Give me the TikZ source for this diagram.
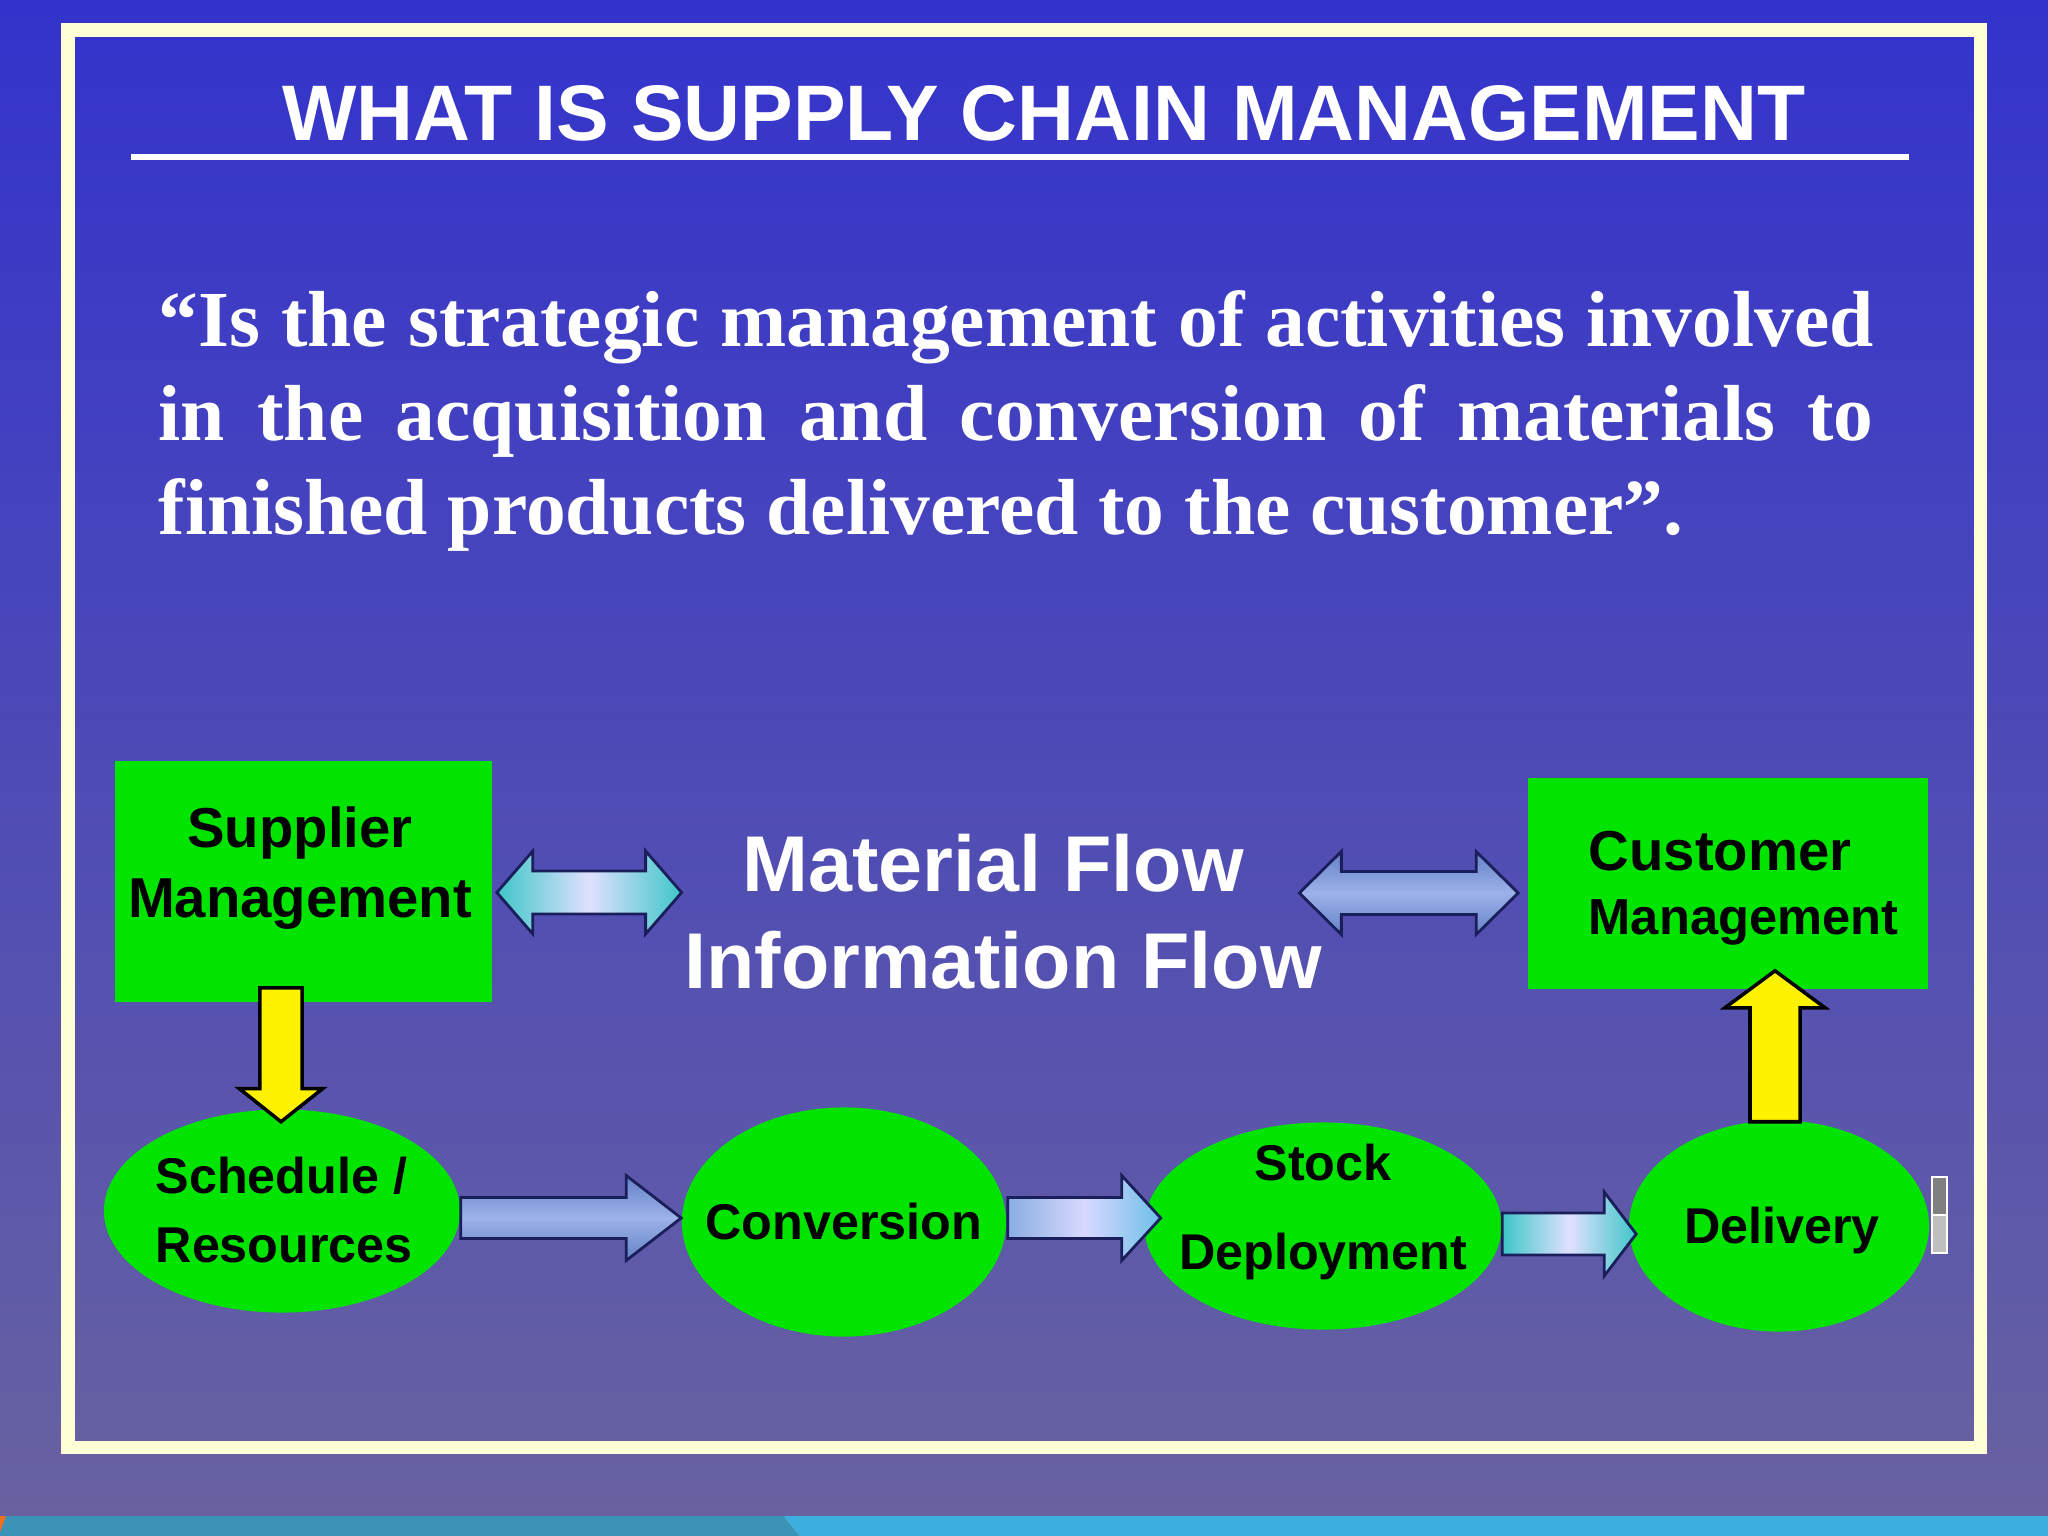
\documentclass[tikz,border=0pt]{standalone}
\usepackage{fontspec}
\setmainfont{Liberation Serif}
\setsansfont{Liberation Sans}
\usepackage{xcolor}
\usepackage{tikz}
\usetikzlibrary{shapes.geometric, arrows.meta, positioning, calc}
\definecolor{SlideTop}{HTML}{3333CC}
\definecolor{SlideBottom}{HTML}{6862A0}
\definecolor{FrameCream}{HTML}{FFFFD6}
\definecolor{SlideGreen}{HTML}{00E400}
\definecolor{StripDark}{HTML}{3C93B8}
\definecolor{StripLight}{HTML}{3BB0DF}
\definecolor{StripOrange}{HTML}{F07020}
\definecolor{ArrowEdge}{HTML}{1A1E5A}
\definecolor{TealFlow}{HTML}{3EC6C8}
\definecolor{SteelFlow}{HTML}{6482C8}
\definecolor{SteelLight}{HTML}{9CB2E8}
\definecolor{PaleFlow}{HTML}{88AEE0}

\newcommand{\blockarrow}[6]{%
  \path[#1] let \p1=#2, \p2=#3 in
    (\x1,\y1+#4) -- (\x2-#6,\y1+#4) -- (\x2-#6,\y1+#5) -- (\x2,\y1)
    -- (\x2-#6,\y1-#5) -- (\x2-#6,\y1-#4) -- (\x1,\y1-#4) -- cycle;}
\newcommand{\dblockarrow}[6]{%
  \path[#1] let \p1=#2, \p2=#3 in
    (\x1,\y1) -- (\x1+#6,\y1+#5) -- (\x1+#6,\y1+#4) -- (\x2-#6,\y1+#4)
    -- (\x2-#6,\y1+#5) -- (\x2,\y1) -- (\x2-#6,\y1-#5) -- (\x2-#6,\y1-#4)
    -- (\x1+#6,\y1-#4) -- (\x1+#6,\y1-#5) -- cycle;}
\newcommand{\vblockarrow}[6]{%
  \path[#1] let \p1=#2, \p2=#3, \n1={#6} in
    (\x1-#4,\y1) -- (\x1-#4,\y2+\n1) -- (\x1-#5,\y2+\n1) -- (\x1,\y2)
    -- (\x1+#5,\y2+\n1) -- (\x1+#4,\y2+\n1) -- (\x1+#4,\y1) -- cycle;}

\begin{document}
\begin{tikzpicture}[x=0.01cm, y=-0.01cm,
  gbox/.style={rectangle, fill=SlideGreen, inner sep=0pt},
  gell/.style={ellipse, fill=SlideGreen, inner sep=0pt},
  lbl/.style={font=\sffamily\bfseries\fontsize{14.3}{19.9}\selectfont,
    text=black, inner sep=0pt, align=center},
  flowtxt/.style={font=\sffamily\bfseries\fontsize{22.5}{27}\selectfont,
    text=white, inner sep=0pt},
  tealarrow/.style={draw=ArrowEdge, line width=0.8pt, left color=TealFlow,
    right color=TealFlow, middle color=white!88!blue},
  steelarrow/.style={draw=ArrowEdge, line width=0.8pt, top color=SteelFlow,
    bottom color=SteelFlow, middle color=SteelLight},
  palearrow/.style={draw=ArrowEdge, line width=0.8pt, left color=PaleFlow,
    right color=PaleFlow!80!cyan, middle color=white!85!blue},
  yarrow/.style={draw=black, line width=1pt, fill=yellow}
]
\useasboundingbox (0,0) rectangle (2048,1536);

\shade[top color=SlideTop, bottom color=SlideBottom] (0,0) rectangle (2048,1516);
\fill[StripDark] (0,1516) -- (784,1516) -- (800,1536) -- (0,1536) -- cycle;
\fill[StripLight] (784,1516) -- (2048,1516) -- (2048,1536) -- (800,1536) -- cycle;
\fill[StripOrange] (0,1516) -- (6,1516) -- (0,1532) -- cycle;
\draw[FrameCream, line width=3.7pt] (68,30) rectangle (1980,1447);

\node[anchor=base, text=white, inner sep=0pt,
  font=\sffamily\bfseries\fontsize{22.4}{27}\selectfont] (title) at (1044,140)
  {WHAT IS SUPPLY CHAIN MANAGEMENT};
\draw[white, line width=1.7pt] (131,157) -- (1909,157);

\node[anchor=north west, text=white, inner sep=0pt, text width=17.14cm,
  align=justify, font=\bfseries\fontsize{22.6}{26.75}\selectfont] (quote) at (158,290)
  {“Is the strategic management of activities involved\linebreak
   in the acquisition and conversion of materials to\linebreak
   finished products delivered to the customer”.};

\node[gbox, minimum width=3.77cm, minimum height=2.41cm] (sup) at (303.5,881.5) {};
\node[gbox, minimum width=4cm, minimum height=2.11cm] (cust) at (1728,883.5) {};
\node[gell, minimum width=3.56cm, minimum height=2.03cm] (sched) at (282,1211) {};
\node[gell, minimum width=3.24cm, minimum height=2.29cm] (conv) at (844,1222) {};
\node[gell, minimum width=3.57cm, minimum height=2.07cm] (stock) at (1323,1226) {};
\node[gell, minimum width=3cm, minimum height=2.11cm] (deliv) at (1779,1226) {};

\node[lbl, font=\sffamily\bfseries\fontsize{16}{19.9}\selectfont] (suptxt) at (300,868)
  {Supplier\\Management};
\node[lbl, align=left, anchor=west, font=\sffamily\bfseries\fontsize{16}{18.2}\selectfont]
  (custtxt) at (1588,888)
  {Customer\\{\fontsize{14.4}{18.2}\selectfont Management}};
\node[lbl, align=left, anchor=west] (schedtxt) at (155,1210) {Schedule /\\Resources};
\node[lbl] (convtxt) at (844,1222) {Conversion};
\node[lbl, font=\sffamily\bfseries\fontsize{14.3}{25.3}\selectfont] (stocktxt) at (1323,1212)
  {Stock\\Deployment};
\node[lbl] (delivtxt) at (1782,1230) {Delivery};

\node[flowtxt] (matflow) at (993,863) {Material Flow};
\node[flowtxt] (infflow) at (1003,960) {Information Flow};

\dblockarrow{tealarrow}{($(sup.east)+(4,11)$)}{($(infflow.west)+(-2,0)$)}{0.215cm}{0.415cm}{0.36cm}
\dblockarrow{steelarrow}{($(matflow.east)+(55,30)$)}{($(cust.west)+(-9,0)$)}{0.215cm}{0.415cm}{0.42cm}

\blockarrow{steelarrow}{($(sched.east)+(0,7)$)}{(conv.west)}{0.205cm}{0.425cm}{0.55cm}
\blockarrow{palearrow}{($(conv.east)+(1,-4)$)}{($(stock.west)+(17,0)$)}{0.205cm}{0.425cm}{0.39cm}
\blockarrow{tealarrow}{($(stock.east)+(0,8)$)}{($(deliv.west)+(8,0)$)}{0.21cm}{0.42cm}{0.32cm}

\vblockarrow{yarrow}{($(sup.south)+(-22.5,-15)$)}{($(sched.north)+(-1,13)$)}{0.21cm}{0.415cm}{0.33cm}
\vblockarrow{yarrow}{($(deliv.north)+(-4,2)$)}{($(cust.south)+(0,-19)$)}{0.25cm}{0.5cm}{-0.37cm}

\draw[white, line width=0.4pt, fill=gray] (1932,1177) rectangle (1947,1215);
\draw[white, line width=0.4pt, fill=lightgray] (1932,1215) rectangle (1947,1253);

\end{tikzpicture}
\end{document}
